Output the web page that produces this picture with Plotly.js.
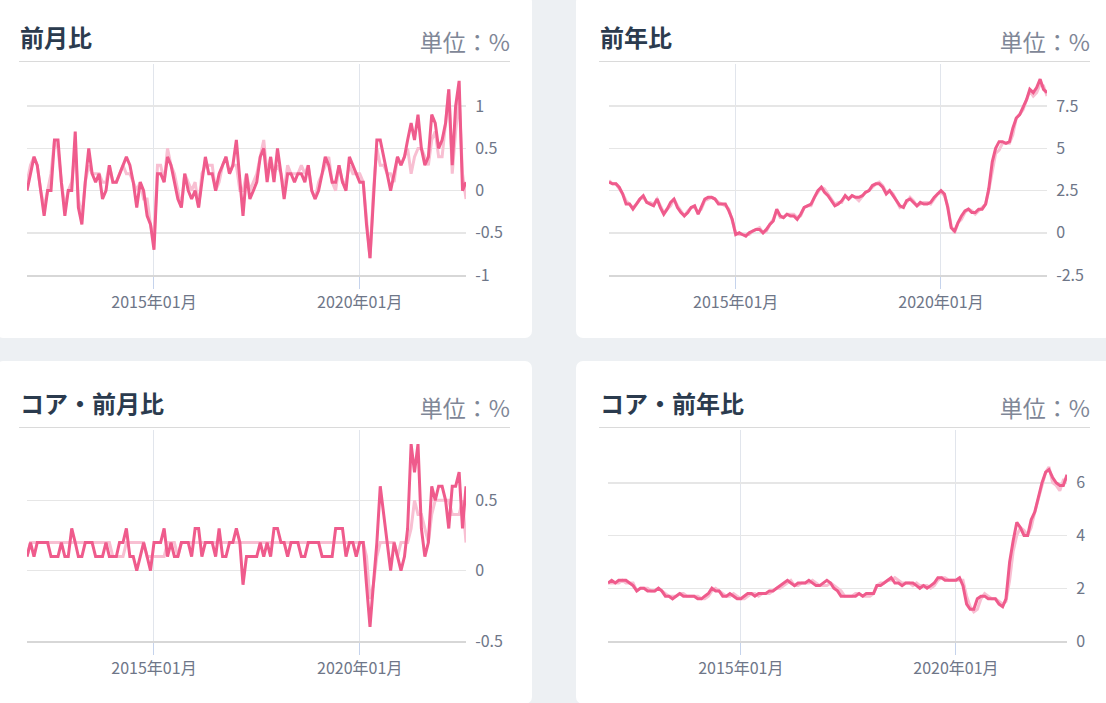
<!DOCTYPE html>
<html lang="ja">
<head>
<meta charset="utf-8">
<script src="https://cdn.plot.ly/plotly-3.0.1.min.js"></script>
<style>
  html, body { margin: 0; padding: 0; width: 1106px; height: 703px; overflow: hidden; background: #edf0f3; font-family: "Noto Sans CJK JP", sans-serif; }
  .card { position: absolute; width: 536px; height: 343px; background: #fff; border-radius: 7px; overflow: hidden; }
  .card-title { position: absolute; left: 24px; top: 27px; font-size: 24px; font-weight: 700; color: #2b3b4e; line-height: 30px; white-space: nowrap; }
  .card-unit { position: absolute; right: 22px; top: 32px; font-size: 23px; color: #7f8797; line-height: 28px; white-space: nowrap; }
  .card-rule { position: absolute; left: 23px; width: 491px; top: 66px; height: 1px; background: #dadada; }
  .card-chart { position: absolute; left: 0; top: 0; width: 536px; height: 343px; }
</style>
</head>
<body>
<div class="card" style="left:-4px; top:-5px;">
  <div class="card-title">前月比</div><div class="card-unit">単位：%</div><div class="card-rule"></div>
  <div class="card-chart" id="mom"></div>
</div>
<div class="card" style="left:576px; top:-5px;">
  <div class="card-title">前年比</div><div class="card-unit">単位：%</div><div class="card-rule"></div>
  <div class="card-chart" id="yoy"></div>
</div>
<div class="card" style="left:-4px; top:361px;">
  <div class="card-title">コア・前月比</div><div class="card-unit">単位：%</div><div class="card-rule"></div>
  <div class="card-chart" id="coremom"></div>
</div>
<div class="card" style="left:576px; top:361px;">
  <div class="card-title">コア・前年比</div><div class="card-unit">単位：%</div><div class="card-rule"></div>
  <div class="card-chart" id="coreyoy"></div>
</div>
<script>
// Monthly series, 2011-12 .. 2022-08. Light line = forecast, dark line = actual.
const FIRST_MONTH = [2011, 12];

// 前月比
const MOM_FORECAST = [
  0.1,
  0.3, 0.4, 0.3, 0.0, -0.2, 0.0, 0.2, 0.6, 0.5, 0.1, -0.2, 0.0,
  0.1, 0.5, -0.1, -0.3, 0.1, 0.3, 0.2, 0.2, 0.2, 0.1, 0.1, 0.3,
  0.1, 0.1, 0.2, 0.3, 0.2, 0.2, 0.1, 0.0, 0.1, -0.1, -0.1, -0.4,
  -0.6, 0.3, 0.3, 0.1, 0.5, 0.3, 0.2, 0.0, -0.2, 0.2, 0.1, 0.0,
  0.1, -0.2, 0.2, 0.3, 0.3, 0.3, 0.0, 0.1, 0.3, 0.4, 0.2, 0.3,
  0.3, 0.0, 0.0, 0.2, 0.0, 0.1, 0.2, 0.4, 0.6, 0.2, 0.4, 0.2,
  0.3, 0.2, 0.0, 0.3, 0.2, 0.2, 0.2, 0.3, 0.2, 0.3, 0.0, -0.1,
  0.1, 0.2, 0.3, 0.4, 0.1, 0.0, 0.3, 0.1, 0.1, 0.3, 0.2, 0.2,
  0.2, 0.1, -0.3, -0.8, 0.0, 0.5, 0.3, 0.3, 0.2, 0.2, 0.1, 0.4,
  0.3, 0.4, 0.5, 0.2, 0.4, 0.5, 0.5, 0.4, 0.3, 0.6, 0.7, 0.4,
  0.4, 0.8, 1.2, 0.2, 0.7, 1.1, 0.2, -0.1,
];
const MOM_ACTUAL = [
  0.0,
  0.2, 0.4, 0.3, 0.0, -0.3, 0.0, 0.0, 0.6, 0.6, 0.1, -0.3, 0.0,
  0.0, 0.7, -0.2, -0.4, 0.1, 0.5, 0.2, 0.1, 0.2, -0.1, 0.0, 0.3,
  0.1, 0.1, 0.2, 0.3, 0.4, 0.3, 0.1, -0.2, 0.1, 0.0, -0.3, -0.4,
  -0.7, 0.2, 0.2, 0.1, 0.4, 0.3, 0.1, -0.1, -0.2, 0.2, 0.0, -0.1,
  0.0, -0.2, 0.1, 0.4, 0.2, 0.2, 0.0, 0.2, 0.3, 0.4, 0.2, 0.3,
  0.6, 0.1, -0.3, 0.2, -0.1, 0.0, 0.1, 0.4, 0.5, 0.1, 0.4, 0.1,
  0.5, 0.2, -0.1, 0.2, 0.2, 0.1, 0.2, 0.2, 0.1, 0.3, 0.0, -0.1,
  0.0, 0.2, 0.4, 0.3, 0.1, 0.1, 0.3, 0.1, 0.0, 0.4, 0.3, 0.2,
  0.1, 0.1, -0.4, -0.8, -0.1, 0.6, 0.6, 0.4, 0.2, 0.0, 0.2, 0.4,
  0.3, 0.4, 0.6, 0.8, 0.6, 0.9, 0.5, 0.3, 0.4, 0.9, 0.8, 0.5,
  0.6, 0.8, 1.2, 0.3, 1.0, 1.3, 0.0, 0.1,
];

// 前年比
const YOY_FORECAST = [
  3.1,
  2.9, 2.9, 2.6, 2.3, 1.9, 1.7, 1.5, 1.7, 2.0, 2.1, 1.8, 1.8,
  1.7, 2.0, 1.6, 1.2, 1.4, 1.6, 2.0, 1.6, 1.3, 1.0, 1.3, 1.5,
  1.5, 1.2, 1.4, 1.9, 2.0, 2.1, 2.0, 1.8, 1.7, 1.6, 1.4, 0.7,
  0.0, -0.1, -0.1, -0.1, -0.1, 0.1, 0.2, 0.3, 0.0, 0.1, 0.5, 0.8,
  1.3, 0.9, 0.9, 1.1, 1.1, 1.1, 0.9, 1.0, 1.5, 1.6, 1.6, 2.1,
  2.4, 2.7, 2.6, 2.3, 2.0, 1.7, 1.8, 1.8, 2.2, 2.0, 2.2, 2.1,
  1.9, 2.2, 2.4, 2.5, 2.7, 2.9, 3.0, 2.8, 2.4, 2.5, 2.3, 1.9,
  1.5, 1.6, 1.8, 2.1, 1.9, 1.6, 1.7, 1.8, 1.8, 1.7, 2.0, 2.3,
  2.4, 2.2, 1.6, 0.4, 0.0, 0.6, 0.8, 1.2, 1.4, 1.3, 1.1, 1.3,
  1.5, 1.7, 2.5, 3.6, 4.7, 4.9, 5.3, 5.3, 5.3, 5.8, 6.8, 7.0,
  7.3, 7.9, 8.4, 8.1, 8.3, 8.8, 8.7, 8.1,
];
const YOY_ACTUAL = [
  3.0,
  2.9, 2.9, 2.7, 2.3, 1.7, 1.7, 1.4, 1.7, 2.0, 2.2, 1.8, 1.7,
  1.6, 2.0, 1.5, 1.1, 1.4, 1.8, 2.0, 1.5, 1.2, 1.0, 1.2, 1.5,
  1.6, 1.1, 1.5, 2.0, 2.1, 2.1, 2.0, 1.7, 1.7, 1.7, 1.3, 0.8,
  -0.1, 0.0, -0.1, -0.2, 0.0, 0.1, 0.2, 0.2, 0.0, 0.2, 0.5, 0.7,
  1.4, 1.0, 0.9, 1.1, 1.0, 1.0, 0.8, 1.1, 1.5, 1.6, 1.7, 2.1,
  2.5, 2.7, 2.4, 2.2, 1.9, 1.6, 1.7, 1.9, 2.2, 2.0, 2.2, 2.1,
  2.1, 2.2, 2.4, 2.5, 2.8, 2.9, 2.9, 2.7, 2.3, 2.5, 2.2, 1.9,
  1.6, 1.5, 1.9, 2.0, 1.8, 1.6, 1.8, 1.7, 1.7, 1.8, 2.1, 2.3,
  2.5, 2.3, 1.5, 0.3, 0.1, 0.6, 1.0, 1.3, 1.4, 1.2, 1.2, 1.4,
  1.4, 1.7, 2.6, 4.2, 5.0, 5.4, 5.4, 5.3, 5.4, 6.2, 6.8, 7.0,
  7.5, 7.9, 8.5, 8.3, 8.6, 9.1, 8.5, 8.3,
];

// コア・前月比
const CORE_MOM_FORECAST = [
  0.1,
  0.2, 0.2, 0.2, 0.2, 0.2, 0.2, 0.2, 0.2, 0.2, 0.2, 0.2, 0.2,
  0.2, 0.2, 0.2, 0.2, 0.2, 0.2, 0.2, 0.2, 0.2, 0.2, 0.2, 0.2,
  0.1, 0.1, 0.1, 0.1, 0.2, 0.2, 0.2, 0.2, 0.2, 0.2, 0.1, 0.1,
  0.1, 0.1, 0.1, 0.1, 0.2, 0.2, 0.2, 0.1, 0.2, 0.2, 0.2, 0.2,
  0.2, 0.2, 0.2, 0.2, 0.2, 0.2, 0.2, 0.2, 0.2, 0.2, 0.2, 0.2,
  0.2, 0.2, 0.2, 0.2, 0.2, 0.2, 0.2, 0.2, 0.2, 0.2, 0.2, 0.2,
  0.2, 0.2, 0.2, 0.2, 0.2, 0.2, 0.2, 0.2, 0.2, 0.2, 0.2, 0.2,
  0.2, 0.2, 0.2, 0.2, 0.2, 0.2, 0.2, 0.2, 0.2, 0.2, 0.2, 0.2,
  0.2, 0.2, 0.1, -0.2, -0.1, 0.1, 0.2, 0.2, 0.2, 0.2, 0.2, 0.1,
  0.2, 0.2, 0.2, 0.3, 0.5, 0.4, 0.4, 0.3, 0.2, 0.4, 0.5, 0.5,
  0.5, 0.5, 0.5, 0.4, 0.4, 0.4, 0.5, 0.2,
];
const CORE_MOM_ACTUAL = [
  0.1,
  0.2, 0.1, 0.2, 0.2, 0.2, 0.2, 0.1, 0.1, 0.1, 0.2, 0.1, 0.1,
  0.3, 0.2, 0.1, 0.1, 0.2, 0.2, 0.2, 0.1, 0.1, 0.1, 0.2, 0.1,
  0.1, 0.1, 0.2, 0.2, 0.3, 0.1, 0.1, 0.0, 0.1, 0.2, 0.1, 0.0,
  0.2, 0.2, 0.2, 0.3, 0.1, 0.2, 0.1, 0.1, 0.2, 0.2, 0.2, 0.1,
  0.3, 0.3, 0.1, 0.2, 0.2, 0.2, 0.1, 0.3, 0.1, 0.1, 0.2, 0.2,
  0.3, 0.2, -0.1, 0.1, 0.1, 0.1, 0.1, 0.2, 0.1, 0.2, 0.1, 0.3,
  0.3, 0.2, 0.2, 0.1, 0.2, 0.2, 0.2, 0.1, 0.1, 0.2, 0.2, 0.2,
  0.2, 0.1, 0.1, 0.1, 0.1, 0.3, 0.3, 0.3, 0.1, 0.2, 0.2, 0.1,
  0.2, 0.2, -0.1, -0.4, -0.1, 0.2, 0.6, 0.4, 0.2, 0.0, 0.2, 0.1,
  0.0, 0.1, 0.3, 0.9, 0.7, 0.9, 0.3, 0.1, 0.2, 0.6, 0.5, 0.6,
  0.6, 0.5, 0.3, 0.6, 0.6, 0.7, 0.3, 0.6,
];

// コア・前年比
const CORE_YOY_FORECAST = [
  2.2,
  2.2, 2.2, 2.2, 2.3, 2.2, 2.2, 2.2, 1.9, 2.0, 2.0, 2.0, 1.9,
  1.9, 2.0, 1.9, 1.8, 1.7, 1.7, 1.7, 1.8, 1.8, 1.7, 1.7, 1.7,
  1.7, 1.6, 1.6, 1.7, 1.9, 2.0, 1.9, 1.8, 1.7, 1.7, 1.8, 1.7,
  1.6, 1.6, 1.7, 1.8, 1.8, 1.7, 1.8, 1.8, 1.8, 1.9, 2.0, 2.0,
  2.1, 2.2, 2.3, 2.1, 2.1, 2.2, 2.2, 2.2, 2.3, 2.2, 2.1, 2.1,
  2.1, 2.2, 2.1, 2.0, 1.9, 1.7, 1.7, 1.7, 1.8, 1.8, 1.7, 1.7,
  1.7, 1.8, 2.1, 2.2, 2.2, 2.3, 2.3, 2.4, 2.3, 2.2, 2.2, 2.2,
  2.1, 2.2, 2.1, 2.1, 2.1, 2.0, 2.1, 2.3, 2.4, 2.4, 2.3, 2.3,
  2.3, 2.3, 2.3, 1.7, 1.3, 1.1, 1.2, 1.6, 1.8, 1.7, 1.6, 1.6,
  1.5, 1.4, 1.5, 2.3, 3.4, 4.0, 4.3, 4.2, 4.0, 4.3, 4.9, 5.4,
  5.9, 6.4, 6.6, 6.0, 5.9, 5.7, 6.1, 6.1,
];
const CORE_YOY_ACTUAL = [
  2.2,
  2.3, 2.2, 2.3, 2.3, 2.3, 2.2, 2.1, 1.9, 2.0, 2.0, 1.9, 1.9,
  1.9, 2.0, 1.9, 1.7, 1.7, 1.6, 1.7, 1.8, 1.7, 1.7, 1.7, 1.7,
  1.6, 1.6, 1.7, 1.8, 2.0, 1.9, 1.9, 1.7, 1.7, 1.8, 1.7, 1.6,
  1.6, 1.7, 1.8, 1.8, 1.7, 1.8, 1.8, 1.8, 1.9, 1.9, 2.0, 2.1,
  2.2, 2.3, 2.2, 2.1, 2.2, 2.2, 2.2, 2.3, 2.2, 2.1, 2.1, 2.2,
  2.3, 2.2, 2.0, 1.9, 1.7, 1.7, 1.7, 1.7, 1.7, 1.8, 1.7, 1.8,
  1.8, 1.8, 2.1, 2.1, 2.2, 2.3, 2.4, 2.2, 2.2, 2.1, 2.2, 2.2,
  2.2, 2.1, 2.0, 2.1, 2.0, 2.1, 2.2, 2.4, 2.4, 2.3, 2.3, 2.3,
  2.3, 2.4, 2.1, 1.4, 1.2, 1.2, 1.6, 1.7, 1.7, 1.6, 1.6, 1.6,
  1.4, 1.3, 1.6, 3.0, 3.8, 4.5, 4.3, 4.0, 4.0, 4.6, 4.9, 5.5,
  6.0, 6.4, 6.5, 6.2, 6.0, 5.9, 5.9, 6.3,
];

// x-axis tick labels
const X_TICKS = ["2015-01-01", "2020-01-01"];
const X_TICK_TEXT = ["2015年01月", "2020年01月"];

// y-axis ticks per panel (text uses a plain hyphen like the original)
const MOM_Y_TICKS = [-1, -0.5, 0, 0.5, 1];
const MOM_Y_TEXT = ["-1", "-0.5", "0", "0.5", "1"];
const YOY_Y_TICKS = [-2.5, 0, 2.5, 5, 7.5];
const YOY_Y_TEXT = ["-2.5", "0", "2.5", "5", "7.5"];
const CORE_MOM_Y_TICKS = [-0.5, 0, 0.5];
const CORE_MOM_Y_TEXT = ["-0.5", "0", "0.5"];
const CORE_YOY_Y_TICKS = [0, 2, 4, 6];
const CORE_YOY_Y_TEXT = ["0", "2", "4", "6"];

const DARK = "#ef5b8c";
const LIGHT = "#f8bfd2";
const FONT = "Noto Sans CJK JP, sans-serif";
const TICK_GREY = "#6e7688";

function monthAxis(n) {
  const out = [];
  let [y, m] = FIRST_MONTH;
  for (let i = 0; i < n; i++) {
    out.push(`${y}-${String(m).padStart(2, "0")}-01`);
    m++;
    if (m > 12) { m = 1; y++; }
  }
  return out;
}

function drawPanel(id, forecast, actual, opts) {
  const x = monthAxis(actual.length);
  const traces = [
    { type: "scatter", mode: "lines", x, y: forecast, line: { color: LIGHT, width: 3 }, hoverinfo: "skip" },
    { type: "scatter", mode: "lines", x, y: actual, line: { color: DARK, width: 3 }, hoverinfo: "skip" },
  ];
  const layout = {
    width: 536,
    height: 343,
    margin: { l: opts.l, r: opts.r, t: 69, b: 63, pad: 0 },
    paper_bgcolor: "rgba(0,0,0,0)",
    plot_bgcolor: "rgba(0,0,0,0)",
    showlegend: false,
    font: { family: FONT, size: 16, color: TICK_GREY },
    xaxis: {
      type: "date",
      range: [x[0], x[x.length - 1]],
      tickvals: X_TICKS,
      ticktext: X_TICK_TEXT,
      showgrid: true,
      gridcolor: "#e1e5ec",
      gridwidth: 1,
      ticks: "outside",
      ticklen: 12,
      tickcolor: "#c5d3ec",
      tickwidth: 1,
      showline: true,
      linecolor: "#d7d7d7",
      linewidth: 1.5,
      zeroline: false,
      tickfont: { family: FONT, size: 16, color: TICK_GREY },
      fixedrange: true,
    },
    yaxis: {
      side: "right",
      range: opts.range,
      tickvals: opts.ticks,
      ticktext: opts.text,
      showgrid: true,
      gridcolor: "#e6e6e6",
      gridwidth: 1.5,
      zeroline: false,
      showline: false,
      ticks: "outside",
      ticklen: 5,
      tickcolor: "rgba(0,0,0,0)",
      tickfont: { family: FONT, size: 16, color: TICK_GREY },
      fixedrange: true,
    },
  };
  Plotly.newPlot(id, traces, layout, { staticPlot: true, displayModeBar: false });
}

drawPanel("mom", MOM_FORECAST, MOM_ACTUAL, { l: 31, r: 66, range: [-1, 1.5], ticks: MOM_Y_TICKS, text: MOM_Y_TEXT });
drawPanel("yoy", YOY_FORECAST, YOY_ACTUAL, { l: 33, r: 65, range: [-2.5, 10], ticks: YOY_Y_TICKS, text: YOY_Y_TEXT });
drawPanel("coremom", CORE_MOM_FORECAST, CORE_MOM_ACTUAL, { l: 31, r: 66, range: [-0.5, 1], ticks: CORE_MOM_Y_TICKS, text: CORE_MOM_Y_TEXT });
drawPanel("coreyoy", CORE_YOY_FORECAST, CORE_YOY_ACTUAL, { l: 32, r: 45, range: [0, 8], ticks: CORE_YOY_Y_TICKS, text: CORE_YOY_Y_TEXT });
</script>
</body>
</html>
